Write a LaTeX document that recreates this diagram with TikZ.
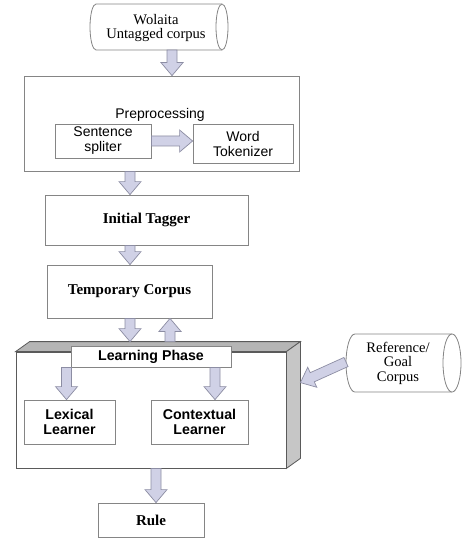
\documentclass[tikz,border=0pt]{standalone}
\usepackage{fontspec}
\setmainfont{Liberation Serif}
\setsansfont{Liberation Sans}
\usetikzlibrary{calc}
\definecolor{arrfill}{HTML}{D0D1E6}
\definecolor{arrline}{HTML}{8C8DA3}
\definecolor{boxline}{HTML}{858585}
\definecolor{topface}{HTML}{B5B5B5}
\definecolor{sideface}{HTML}{C6C6C6}
\definecolor{darkline}{HTML}{5A5A5A}
\newcommand\barrow[2]{%
  \draw[barr] let \p1=(#1), \p2=(#2), \n1={atan2(\y2-\y1,\x2-\x1)}, \n2={veclen(\x2-\x1,\y2-\y1)} in
  [shift={(\p1)}, rotate=\n1] (0,-5) -- ({\n2-13},-5) -- ({\n2-13},-11) -- (\n2,0) -- ({\n2-13},11) -- ({\n2-13},5) -- (0,5) -- cycle;}
\begin{document}
\begin{tikzpicture}[x=1pt,y=1pt,
  box/.style={draw=boxline, line width=0.8pt, fill=white, inner sep=0pt, align=center},
  barr/.style={draw=arrline, fill=arrfill, line width=0.7pt, line join=miter},
  cylst/.style={draw=boxline, line width=0.8pt, fill=white},
  serift/.style={font=\fontsize{14.6}{14.5}\selectfont, align=center, inner sep=0pt},
  seriftb/.style={font=\fontsize{15}{15}\selectfont\bfseries, align=center},
  sanst/.style={font=\fontsize{14}{15}\selectfont\sffamily, align=center},
  sanstb/.style={font=\fontsize{14.2}{15}\selectfont\sffamily\bfseries, align=center}]
\useasboundingbox (0,0) rectangle (474,-540);
% column helpers
\coordinate (x130) at (130,0);
\coordinate (x170) at (170,0);
\coordinate (x67) at (66.5,0);
\coordinate (x215) at (215,0);
\coordinate (x156) at (156,0);
% Wolaita cylinder
\draw[cylst] (96,-4) -- (222,-4) arc[start angle=90,end angle=-90,x radius=6,y radius=23] -- (96,-50) arc[start angle=270,end angle=90,x radius=6,y radius=23] -- cycle;
\draw[cylst] (222,-4) arc[start angle=90,end angle=270,x radius=6,y radius=23];
\node[serift] (wol) at (156,-28) {Wolaita\\Untagged corpus};
\coordinate (wolb) at (172,-50);
% Preprocessing
\node[box, minimum width=275, minimum height=95] (pre) at (161.5,-123.5) {};
\node[sanst] (pret) at (160,-115) {Preprocessing};
\node[box, sanst, minimum width=96, minimum height=34] (ss) at (103,-141) {Sentence\\spliter};
\node[box, sanst, minimum width=100, minimum height=39] (wt) at (243,-143.5) {Word\\Tokenizer};
% Initial tagger, temporary corpus
\node[box, seriftb, minimum width=203, minimum height=50] (it) at (146.5,-220) {Initial Tagger};
\node[box, seriftb, minimum width=165, minimum height=53] (tc) at (129.5,-291.5) {Temporary Corpus};
% 3D learning box
\node[draw=darkline, line width=0.8pt, fill=white, minimum width=270, minimum height=116, inner sep=0pt] (lbox) at (151,-410) {};
\draw[draw=darkline, line width=0.8pt, fill=topface] (lbox.north west) -- ++(14,10) -- ($(lbox.north east)+(14,10)$) -- (lbox.north east) -- cycle;
\draw[draw=darkline, line width=0.8pt, fill=sideface] (lbox.north east) -- ++(14,10) -- ($(lbox.south east)+(14,10)$) -- (lbox.south east) -- cycle;
\coordinate (ltop) at ($(lbox.north)+(0,10)$);
\coordinate (sidept) at ($(lbox.north east)+(14,-31)$);
\node[box, sanstb, minimum width=160, minimum height=21] (lp) at (151,-356.5) {Learning Phase};
\node[box, sanstb, minimum width=91, minimum height=44] (lex) at (69.5,-422) {Lexical\\Learner};
\node[box, sanstb, minimum width=97, minimum height=44] (ctx) at (199.5,-422) {Contextual\\Learner};
% Rule
\node[box, seriftb, minimum width=106, minimum height=34] (rule) at (151,-520) {Rule};
% Reference cylinder
\draw[cylst] (355,-334) -- (452,-334) arc[start angle=90,end angle=-90,x radius=9,y radius=29] -- (355,-392) arc[start angle=270,end angle=90,x radius=9,y radius=29] -- cycle;
\draw[cylst] (452,-334) arc[start angle=90,end angle=270,x radius=9,y radius=29];
\node[serift] (ref) at (398,-363) {Reference/\\Goal\\Corpus};
\coordinate (refl) at (346,-362);
% block arrows
\barrow{wolb}{wolb |- pre.north}
\barrow{ss.east}{wt.west |- ss.east}
\barrow{pre.south -| x130}{it.north -| x130}
\barrow{it.south -| x130}{tc.north -| x130}
\barrow{tc.south -| x130}{ltop -| x130}
\barrow{ltop -| x170}{tc.south -| x170}
\barrow{lp.south -| x67}{lex.north -| x67}
\barrow{lp.south -| x215}{ctx.north -| x215}
\barrow{lbox.south -| x156}{rule.north -| x156}
\barrow{refl}{sidept}
\end{tikzpicture}
\end{document}
